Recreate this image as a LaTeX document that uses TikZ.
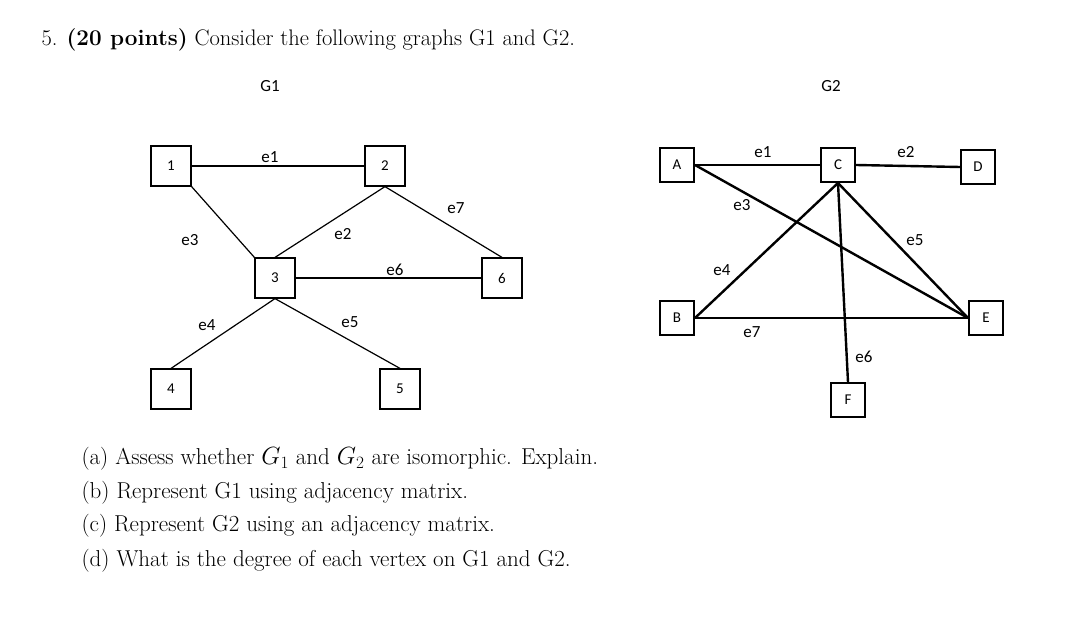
\documentclass[tikz,border=0pt]{standalone}
\usepackage{fontspec}
\newfontfamily\calfont{Carlito}
\begin{document}
\begin{tikzpicture}[x=1pt,y=-1pt,
  b1/.style={draw,line width=1.2pt,minimum size=40pt,inner sep=0pt,font=\calfont\fontsize{15}{15}\selectfont},
  b2/.style={draw,line width=2pt,minimum size=34pt,inner sep=0pt,font=\calfont\fontsize{15}{15}\selectfont},
  l/.style={font=\calfont\fontsize{17}{17}\selectfont},
  e1s/.style={line width=1.2pt},
  e2s/.style={line width=2.4pt},
  q/.style={anchor=west,font=\fontsize{23}{23}\selectfont}]
\useasboundingbox (0,0) rectangle (1066,628);
\node[anchor=west,font=\fontsize{22.5}{22.5}\selectfont] (t) at (38,40) {5. \textbf{(20 points)} Consider the following graphs G1 and G2.};
\node[l] (g1) at (270,86) {G1};
\node[l] (g2) at (831,86) {G2};
% G1
\node[b1] (n1) at (171,166) {1};
\node[b1] (n2) at (385,166) {2};
\node[b1] (n3) at (275,278) {3};
\node[b1] (n6) at (502,278) {6};
\node[b1] (n4) at (171,389) {4};
\node[b1] (n5) at (400,389) {5};
\draw[e1s] (n1.east) -- (n2.west);
\draw[e1s] (n1.south east) -- (n3.north west);
\draw[e1s] (n3.north) -- (n2.south);
\draw[e1s] (n2.south) -- (n6.north);
\draw[e1s] (n3.east) -- (n6.west);
\draw[e1s] (n3.south) -- (n4.north);
\draw[e1s] (n3.south) -- (n5.north);
\node[l] (a1) at (270,157) {e1};
\node[l] (a3) at (190,240) {e3};
\node[l] (a2) at (343,234) {e2};
\node[l] (a7) at (456,208) {e7};
\node[l] (a6) at (395,270) {e6};
\node[l] (a4) at (207,325) {e4};
\node[l] (a5) at (350,322) {e5};
% G2
\node[b2] (A) at (677,165) {A};
\node[b2] (C) at (838,165) {C};
\node[b2] (D) at (978,167) {D};
\node[b2] (B) at (677,318) {B};
\node[b2] (E) at (986,318) {E};
\node[b2] (F) at (848,400) {F};
\draw[e2s] (A.east) -- (C.west);
\draw[e2s] (C.east) -- (D.west);
\draw[e2s] (A.east) -- (E.west);
\draw[e2s] (C.south) -- (B.east);
\draw[e2s] (C.south) -- (E.west);
\draw[e2s] (C.south) -- (F.north);
\draw[e2s] (B.east) -- (E.west);
\node[l] (b1) at (763,152) {e1};
\node[l] (b2l) at (906,152) {e2};
\node[l] (b3) at (742,205) {e3};
\node[l] (b5) at (915,240) {e5};
\node[l] (b4) at (722,270) {e4};
\node[l] (b7) at (752,332) {e7};
\node[l] (b6) at (864,357) {e6};
% questions
\node[q] (qa) at (78,459) {(a) Assess whether $G_1$ and $G_2$ are isomorphic. Explain.};
\node[q] (qb) at (78,493) {(b) Represent G1 using adjacency matrix.};
\node[q] (qc) at (78,526) {(c) Represent G2 using an adjacency matrix.};
\node[q] (qd) at (78,561) {(d) What is the degree of each vertex on G1 and G2.};
\end{tikzpicture}
\end{document}
